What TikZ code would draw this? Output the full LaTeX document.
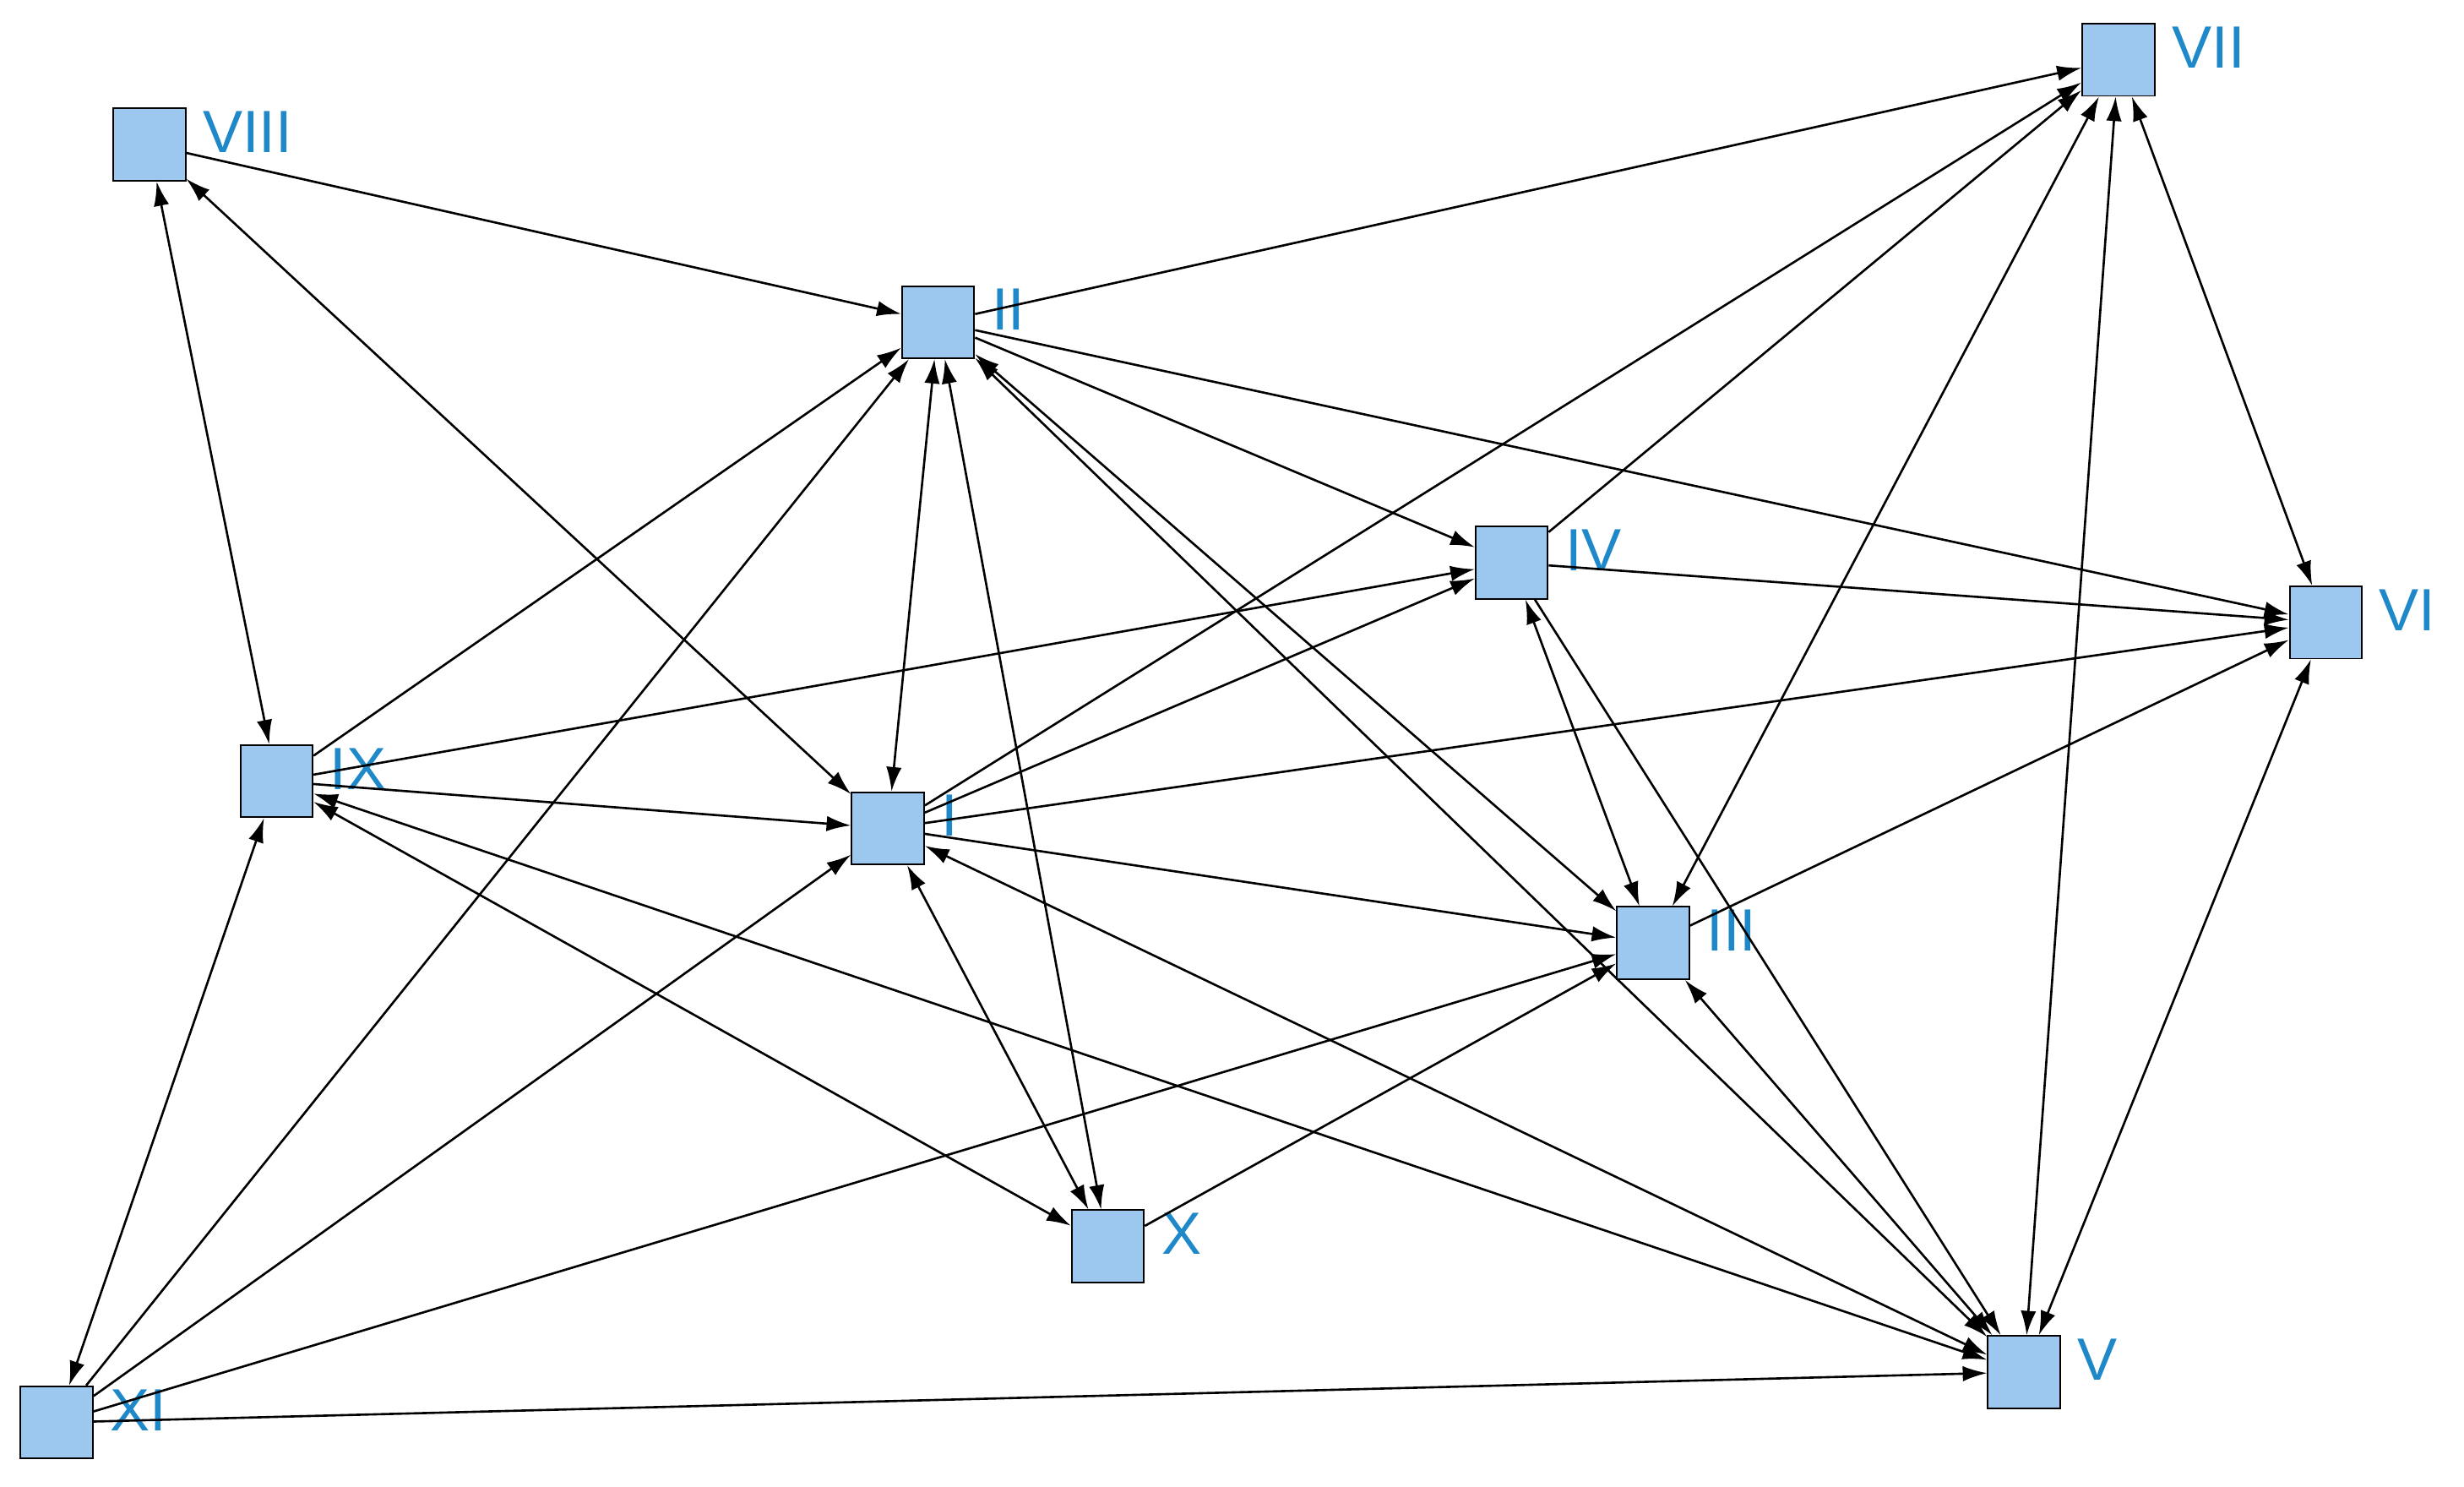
\documentclass[tikz,border=0pt]{standalone}
\usepackage{fontspec}
\setmainfont{Liberation Sans}
\usetikzlibrary{arrows.meta}
\definecolor{boxfill}{HTML}{9CC8F0}
\definecolor{labc}{HTML}{1E88C8}
\begin{document}
\begin{tikzpicture}[x=0.05cm,y=-0.05cm,
  box/.style={draw=black,line width=1.5pt,fill=boxfill,minimum size=2.3cm,inner sep=0},
  lab/.style={text=labc,font=\fontsize{54}{58}\selectfont,anchor=west,inner sep=0},
  e/.style={line width=2pt,-{Latex[length=22pt,width=14pt]}},
  b/.style={line width=2pt,{Latex[length=22pt,width=14pt]}-{Latex[length=22pt,width=14pt]}}]
\useasboundingbox (0,0) rectangle (1568,946);
\foreach \n/\x/\y in {VIII/95/92,II/597/205,VII/1348/38,IV/962/358,VI/1480/396,IX/176/497,I/565/527,III/1052/600,X/705/793,V/1288/873,XI/36/905}{
  \node[box] (\n) at (\x,\y) {};
  \node[lab] at (\x+34,\y-8) {\n};
}
\draw[e] (VIII) -- (II);
\draw[b] (VIII) -- (IX);
\draw[b] (VIII) -- (I);
\draw[e] (II) -- (VII);
\draw[e] (II) -- (VI);
\draw[e] (II) -- (IV);
\draw[b] (II) -- (I);
\draw[b] (II) -- (X);
\draw[b] (II) -- (III);
\draw[b] (II) -- (V);
\draw[e] (IX) -- (II);
\draw[e] (XI) -- (II);
\draw[e] (I) -- (VII);
\draw[e] (I) -- (IV);
\draw[e] (I) -- (VI);
\draw[e] (I) -- (III);
\draw[b] (I) -- (V);
\draw[b] (I) -- (X);
\draw[e] (XI) -- (I);
\draw[e] (IX) -- (I);
\draw[e] (IX) -- (IV);
\draw[b] (IX) -- (X);
\draw[b] (IX) -- (V);
\draw[b] (IX) -- (XI);
\draw[e] (IV) -- (VII);
\draw[e] (IV) -- (VI);
\draw[b] (IV) -- (III);
\draw[b] (VII) -- (III);
\draw[b] (VII) -- (V);
\draw[b] (VII) -- (VI);
\draw[e] (III) -- (VI);
\draw[b] (VI) -- (V);
\draw[b] (III) -- (V);
\draw[e] (XI) -- (III);
\draw[e] (X) -- (III);
\draw[e] (XI) -- (V);
\draw[e] (IV) -- (V);
\end{tikzpicture}
\end{document}
